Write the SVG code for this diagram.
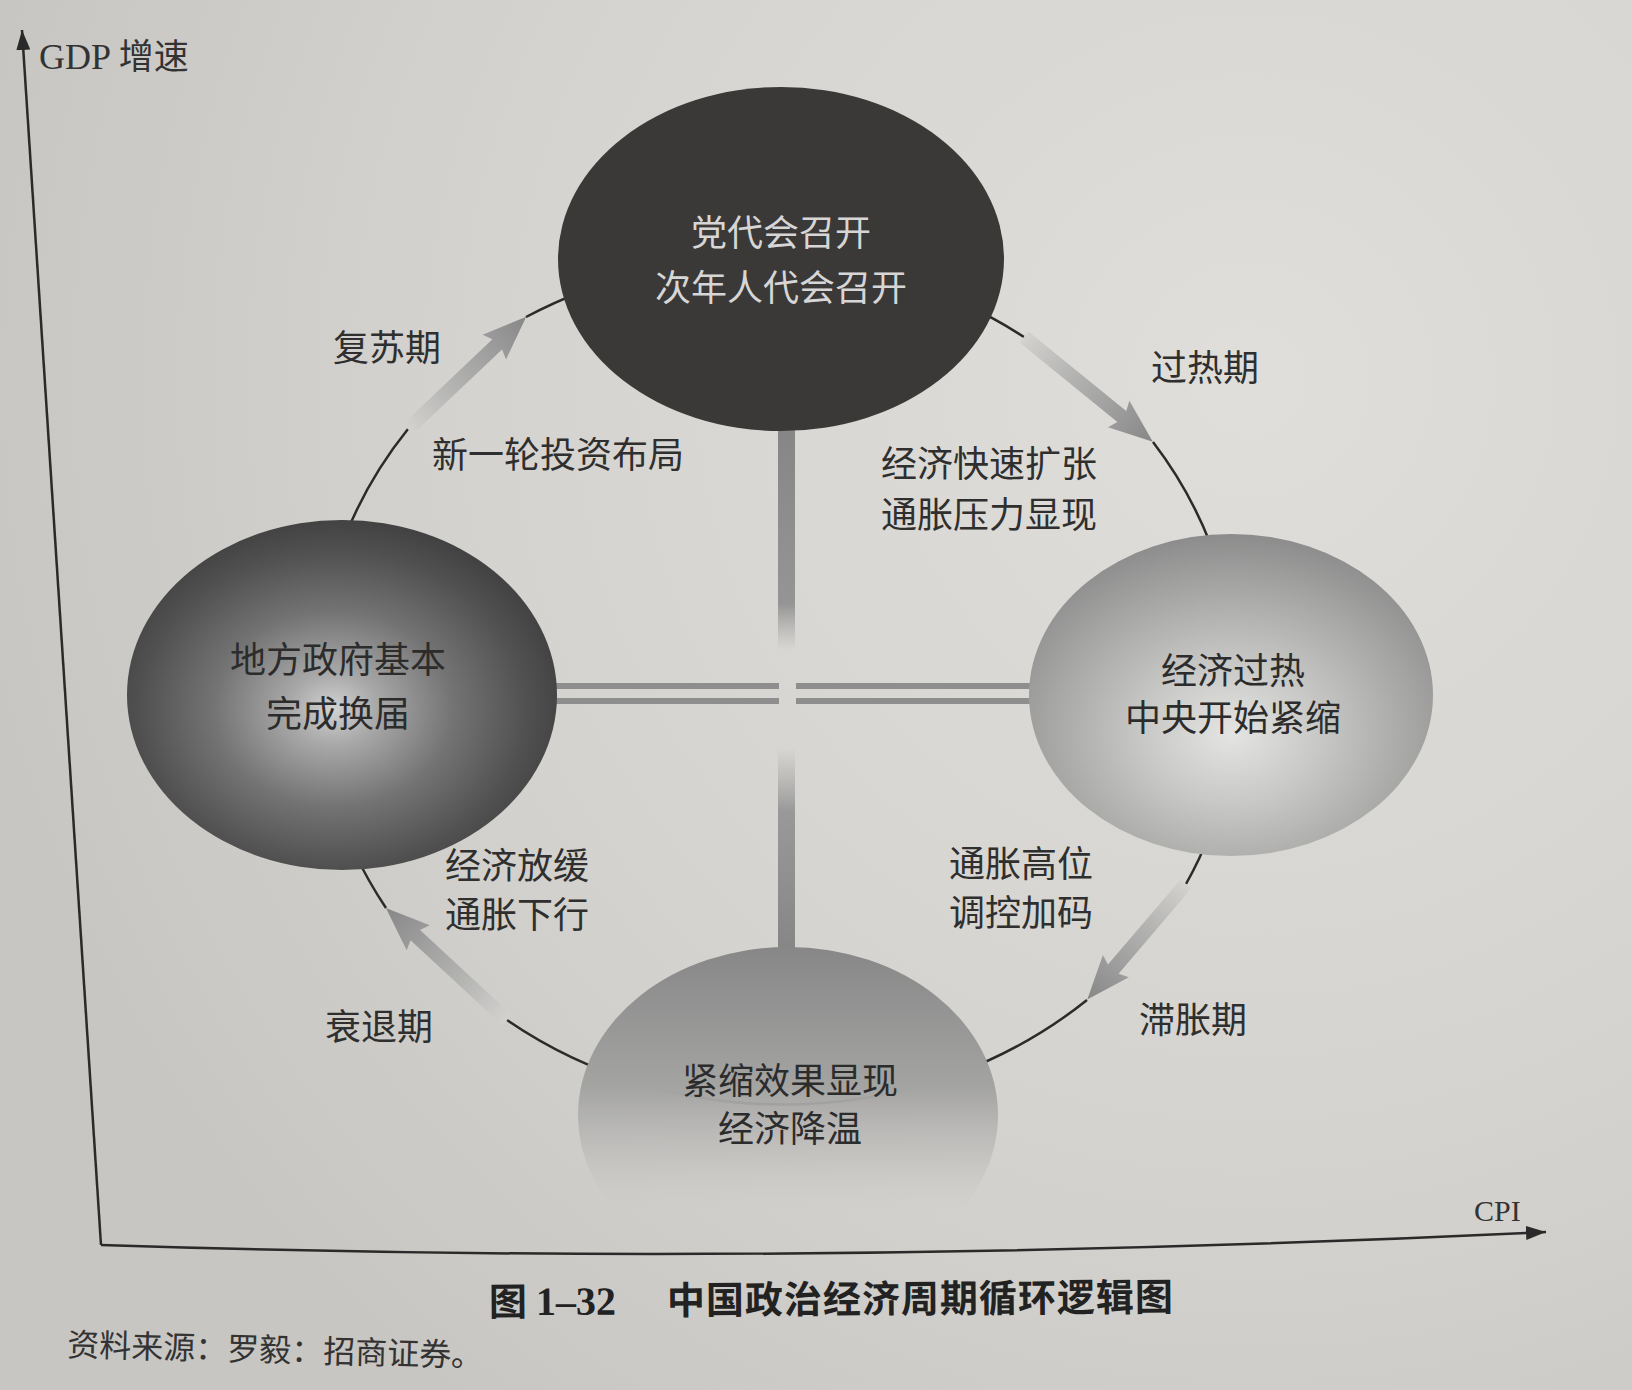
<svg xmlns="http://www.w3.org/2000/svg" width="1632" height="1390" viewBox="0 0 1632 1390">
  <defs>
    <radialGradient id="bg" cx="1250" cy="380" r="1300" gradientUnits="userSpaceOnUse">
      <stop offset="0" stop-color="#e0deda"/>
      <stop offset="0.6" stop-color="#d5d3cf"/>
      <stop offset="1" stop-color="#c8c6c2"/>
    </radialGradient>
    <radialGradient id="gLeft" cx="0.48" cy="0.54" r="0.56">
      <stop offset="0" stop-color="#d2d2d2"/>
      <stop offset="0.18" stop-color="#a9a9a9"/>
      <stop offset="0.5" stop-color="#737373"/>
      <stop offset="0.8" stop-color="#515151"/>
      <stop offset="1" stop-color="#3f3f3f"/>
    </radialGradient>
    <radialGradient id="gRight" cx="0.5" cy="0.62" r="0.62">
      <stop offset="0" stop-color="#e4e4e2"/>
      <stop offset="0.35" stop-color="#c8c8c7"/>
      <stop offset="0.75" stop-color="#a4a4a3"/>
      <stop offset="1" stop-color="#8c8c8c"/>
    </radialGradient>
    <linearGradient id="gBottom" x1="0" y1="0" x2="0" y2="1">
      <stop offset="0" stop-color="#878787" stop-opacity="1"/>
      <stop offset="0.42" stop-color="#a4a4a3" stop-opacity="1"/>
      <stop offset="0.62" stop-color="#bdbcba" stop-opacity="0.7"/>
      <stop offset="0.8" stop-color="#cfcdca" stop-opacity="0"/>
    </linearGradient>
    <linearGradient id="arrowGrad" x1="0" y1="0" x2="1" y2="0">
      <stop offset="0" stop-color="#d3d2cf"/>
      <stop offset="0.35" stop-color="#b5b5b4"/>
      <stop offset="0.75" stop-color="#9a9a9a"/>
      <stop offset="1" stop-color="#878787"/>
    </linearGradient>
    <linearGradient id="barTop" x1="0" y1="0" x2="0" y2="1">
      <stop offset="0" stop-color="#858585" stop-opacity="1"/>
      <stop offset="0.8" stop-color="#959595" stop-opacity="1"/>
      <stop offset="1" stop-color="#a5a5a5" stop-opacity="0"/>
    </linearGradient>
    <linearGradient id="barBottom" x1="0" y1="0" x2="0" y2="1">
      <stop offset="0" stop-color="#a5a5a5" stop-opacity="0"/>
      <stop offset="0.3" stop-color="#999999" stop-opacity="1"/>
      <stop offset="1" stop-color="#858585" stop-opacity="1"/>
    </linearGradient>
    <marker id="axisHead" viewBox="0 0 20 14" refX="20" refY="7" markerWidth="20" markerHeight="14" markerUnits="userSpaceOnUse" orient="auto">
      <path d="M0,0 L20,7 L0,14 Z" fill="#2a2a2a"/>
    </marker>
    <style>
      .axis { fill: none; stroke: #2a2a2a; stroke-width: 2.5; }
      .arc { fill: none; stroke: #2b2b2b; stroke-width: 2.5; }
      .thick { fill: url(#arrowGrad); }
      .hbar { stroke: #8e8e8e; stroke-width: 6; }
      .cjk { font-family: "Noto Sans CJK SC", "Noto Sans", sans-serif; }
      .lbl { font-family: "Noto Sans CJK SC", "Noto Sans", sans-serif; font-size: 36px; fill: #2f2f2f; }
      .node { font-family: "Noto Sans CJK SC", "Noto Sans", sans-serif; font-size: 36px; fill: #2c2c2c; text-anchor: middle; }
      .lat { font-family: "Liberation Serif", "DejaVu Serif", serif; }
    </style>
  </defs>

  <rect x="0" y="0" width="1632" height="1390" fill="url(#bg)"/>

  <g id="axes">
    <path class="axis" d="M101,1245 L22,30" marker-end="url(#axisHead)"/>
    <path class="axis" d="M101,1245 Q800,1268 1546,1232" marker-end="url(#axisHead)"/>
    <text x="39" y="69" font-size="36" fill="#333"><tspan class="lat">GDP </tspan><tspan class="cjk" font-size="35">增速</tspan></text>
    <text x="1474" y="1221" class="lat" font-size="30" fill="#333">CPI</text>
  </g>

  <g id="connectors">
    <path class="arc" d="M526,317 A463,427 0 0 1 1024,337"/>
    <path class="arc" d="M1153,442 A463,427 0 0 1 1186,884"/>
    <path class="arc" d="M1087,1000 A463,427 0 0 1 507,1020"/>
    <path class="arc" d="M386,908 A463,427 0 0 1 408,429"/>
    <rect x="778" y="420" width="17" height="230" fill="url(#barTop)"/>
    <rect x="778" y="748" width="17" height="210" fill="url(#barBottom)"/>
    <line class="hbar" x1="540" y1="686" x2="779" y2="686"/>
    <line class="hbar" x1="540" y1="701" x2="779" y2="701"/>
    <line class="hbar" x1="796" y1="686" x2="1045" y2="686"/>
    <line class="hbar" x1="796" y1="701" x2="1045" y2="701"/>
    <path id="arrow-recovery" class="thick" transform="translate(408,429) rotate(-43.5)" d="M0,-7 L123,-7 L119,-17 L163,0 L119,17 L123,7 L0,7 Z"/>
    <path id="arrow-overheat" class="thick" transform="translate(1024,337) rotate(39.1)" d="M0,-7 L126,-7 L122,-17 L166,0 L122,17 L126,7 L0,7 Z"/>
    <path id="arrow-stagflation" class="thick" transform="translate(1186,884) rotate(130.5)" d="M0,-7 L112,-7 L108,-17 L152,0 L108,17 L112,7 L0,7 Z"/>
    <path id="arrow-recession" class="thick" transform="translate(507,1020) rotate(-137.2)" d="M0,-7 L125,-7 L121,-17 L165,0 L121,17 L125,7 L0,7 Z"/>
  </g>

  <g id="node-top">
    <ellipse cx="781" cy="259" rx="223" ry="172" fill="#3b3938"/>
    <text class="node" x="781" y="246" font-size="37" style="fill:#d6d6d6">党代会召开</text>
    <text class="node" x="781" y="301" font-size="37" style="fill:#d6d6d6">次年人代会召开</text>
  </g>

  <g id="node-left">
    <ellipse cx="342" cy="695" rx="215" ry="175" fill="url(#gLeft)"/>
    <text class="node" x="338" y="673">地方政府基本</text>
    <text class="node" x="338" y="727">完成换届</text>
  </g>

  <g id="node-right">
    <ellipse cx="1231" cy="695" rx="202" ry="161" fill="url(#gRight)"/>
    <text class="node" x="1233" y="684" font-size="35">经济过热</text>
    <text class="node" x="1233" y="731" font-size="35">中央开始紧缩</text>
  </g>

  <g id="node-bottom">
    <ellipse cx="788" cy="1115" rx="210" ry="168" fill="url(#gBottom)"/>
    <text class="node" x="790" y="1094">紧缩效果显现</text>
    <text class="node" x="790" y="1142">经济降温</text>
  </g>

  <g id="labels">
    <text class="lbl" x="333" y="361">复苏期</text>
    <text class="lbl" x="432" y="468" font-size="37">新一轮投资布局</text>
    <text class="lbl" x="1151" y="381">过热期</text>
    <text class="lbl" x="881" y="477">经济快速扩张</text>
    <text class="lbl" x="881" y="528">通胀压力显现</text>
    <text class="lbl" x="445" y="879">经济放缓</text>
    <text class="lbl" x="445" y="928">通胀下行</text>
    <text class="lbl" x="325" y="1040">衰退期</text>
    <text class="lbl" x="949" y="877">通胀高位</text>
    <text class="lbl" x="949" y="926">调控加码</text>
    <text class="lbl" x="1139" y="1033">滞胀期</text>
  </g>

  <g id="caption" transform="rotate(-0.4 830 1313)">
    <text y="1313" font-size="38" font-weight="bold" fill="#222"><tspan class="cjk" x="489">图</tspan><tspan class="lat" x="536" font-size="40">1–32</tspan><tspan class="cjk" x="667" letter-spacing="1">中国政治经济周期循环逻辑图</tspan></text>
  </g>
  <text class="cjk" x="67" y="1356" font-size="32" fill="#333" transform="rotate(1.5 67 1356)">资料来源：罗毅：招商证券。</text>
</svg>
